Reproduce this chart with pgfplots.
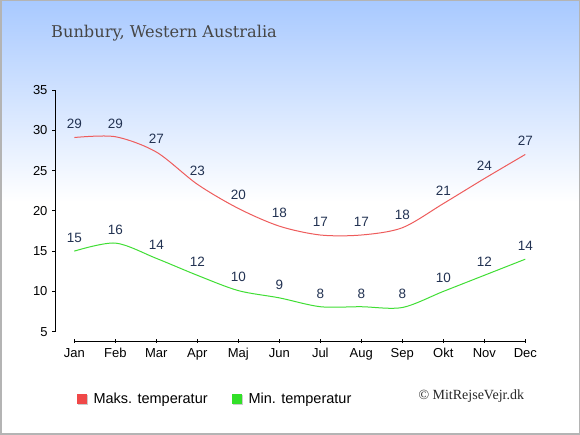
\documentclass[border=0pt]{standalone}
\usepackage{pgfplots}
\pgfplotsset{compat=1.18}
\usepackage{pgfplotstable}
\usepackage{fontspec}
\setmainfont{Liberation Sans}
\newfontfamily\titlefont{DejaVu Serif}
\newfontfamily\copyfont{Liberation Serif}
\definecolor{maxc}{RGB}{238,92,92}
\definecolor{minc}{RGB}{64,222,52}
\definecolor{maxsq}{RGB}{240,72,72}
\definecolor{minsq}{RGB}{50,224,40}
\definecolor{labc}{RGB}{34,50,82}
\definecolor{topblue}{RGB}{168,201,255}
\pgfplotstableread{
x y lab
0 29.1 29
1 29.2 29
2 27.3 27
3 23.3 23
4 20.3 20
5 18.1 18
6 17.0 17
7 17.0 17
8 17.9 18
9 20.9 21
10 24.0 24
11 27.0 27
}\maxdata
\pgfplotstableread{
x y lab
0 15.0 15
1 16.0 16
2 14.1 14
3 12.0 12
4 10.1 10
5 9.2 9
6 8.1 8
7 8.1 8
8 8.0 8
9 10.0 10
10 12.0 12
11 14.0 14
}\mindata
\begin{document}
\begin{tikzpicture}[x=1bp,y=1bp]
\path[use as bounding box] (0,0) rectangle (580,435);
\fill[white] (0,0) rectangle (580,435);
\shade[top color=topblue,bottom color=white] (0,233) rectangle (580,435);
\draw[color={rgb,255:red,180;green,180;blue,180},line width=1.5bp] (0.75,0.75) rectangle (579.25,434.25);
\node[anchor=base west,inner sep=0,text={rgb,255:red,70;green,70;blue,70},font=\titlefont\fontsize{16.2bp}{19bp}\selectfont] at (51,397) {Bunbury, Western Australia};
\begin{axis}[
  at={(55bp,94bp)}, anchor=south west,
  scale only axis, width=470.3bp, height=251bp,
  xmin=-0.471, xmax=11, ymin=3.846, ymax=35,
  axis x line=bottom, axis y line=left,
  axis line style={draw=none,-},
  xtick={0,...,11},
  xticklabels={Jan,Feb,Mar,Apr,Maj,Jun,Jul,Aug,Sep,Okt,Nov,Dec},
  ytick={5,10,15,20,25,30,35},
  tick align=outside, major tick length=4bp,
  tick style={black,line width=0.8bp},
  xtick style={yshift=2bp},
  ytick style={xshift=1bp},
  ticklabel style={font=\fontsize{13bp}{15bp}\selectfont, text=black},
  /pgf/number format/assume math mode=true,
  clip=false,
  nodes near coords,
  point meta=explicit symbolic,
  every node near coord/.append style={anchor=south, inner sep=0, yshift=8bp, text=labc, font=\fontsize{13.5bp}{16bp}\selectfont},
]
\draw[black,line width=0.8bp] (rel axis cs:0,0.0368) -- (rel axis cs:0,1);
\draw[black,line width=0.8bp] (axis cs:0,3.846) -- (axis cs:11,3.846);
\addplot[maxc, line width=1bp, smooth, no marks] table[x=x,y=y,meta=lab] {\maxdata};
\addplot[minc, line width=1bp, smooth, no marks] table[x=x,y=y,meta=lab] {\mindata};
\end{axis}
\fill[gray!40] (78.3,30) rectangle (87.7,40);
\fill[maxsq] (77.3,31) rectangle (86.7,41);
\node[anchor=base west,inner sep=0,font=\fontsize{14.5bp}{17bp}\selectfont] at (93.3,31) {Maks. temperatur};
\fill[gray!40] (233.3,30) rectangle (242.7,40);
\fill[minsq] (232.3,31) rectangle (241.7,41);
\node[anchor=base west,inner sep=0,font=\fontsize{14.5bp}{17bp}\selectfont] at (248.3,31) {Min. temperatur};
\node[anchor=base west,inner sep=0,text={rgb,255:red,40;green,40;blue,40},font=\copyfont\fontsize{14bp}{17bp}\selectfont] at (418.3,35) {© MitRejseVejr.dk};
\end{tikzpicture}
\end{document}
